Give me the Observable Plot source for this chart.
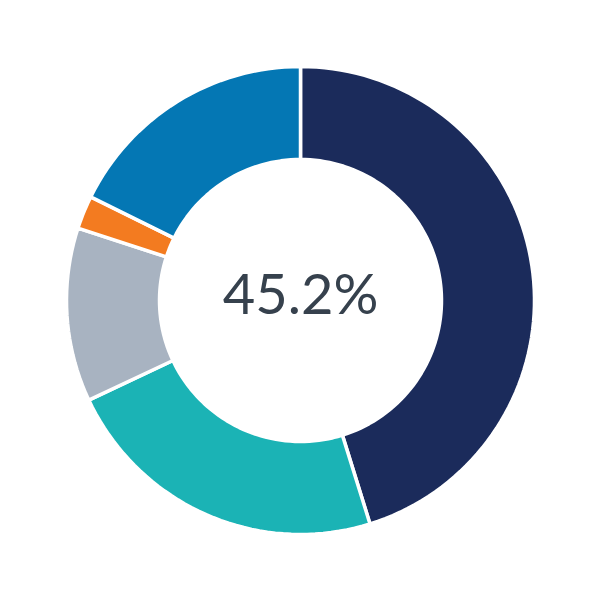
<!DOCTYPE html>
<html>
<head>
<meta charset="utf-8">
<script src="https://cdn.jsdelivr.net/npm/d3@7"></script>
<script src="https://cdn.jsdelivr.net/npm/@observablehq/plot@0.6"></script>
<style>
  html, body { margin: 0; padding: 0; background: #fff; }
  #chart { width: 600px; height: 600px; }
</style>
</head>
<body>
<div id="chart"></div>
<script>
// Data
const categories = ["A", "B", "C", "D", "E"];
const shares = [45.2, 22.8, 12.0, 2.3, 17.7];
const colors = ["#1b2b5b", "#1bb3b5", "#a8b3c1", "#f37b20", "#0477b4"];
const centerLabel = "45.2%";

// Geometry (pixels in data units)
const R_OUT = 234, R_IN = 141, STEPS = 90;
const pie = d3.pie().sort(null).value(d => d)(shares);

const pts = [];
pie.forEach((p, i) => {
  const a0 = p.startAngle, a1 = p.endAngle;
  const n = Math.max(4, Math.ceil(STEPS * (a1 - a0) / Math.PI));
  for (let k = 0; k <= n; k++) {
    const a = a0 + (a1 - a0) * k / n;
    pts.push({cat: categories[i], x: R_OUT * Math.sin(a), y: R_OUT * Math.cos(a)});
  }
  for (let k = n; k >= 0; k--) {
    const a = a0 + (a1 - a0) * k / n;
    pts.push({cat: categories[i], x: R_IN * Math.sin(a), y: R_IN * Math.cos(a)});
  }
});

const chart = Plot.plot({
  width: 600,
  height: 600,
  margin: 0,
  x: {domain: [-300, 300], axis: null},
  y: {domain: [-300, 300], axis: null},
  color: {domain: categories, range: colors},
  marks: [
    Plot.line(pts, {
      x: "x", y: "y", z: "cat", fill: "cat",
      stroke: "white", strokeWidth: 3.5, strokeLinejoin: "miter",
      curve: "linear-closed"
    }),
    Plot.text([centerLabel], {
      x: () => 0, y: () => 0, text: d => d,
      fontSize: 56, fontWeight: 400, fontFamily: "Lato, 'Open Sans', sans-serif",
      fill: "#36414d", dy: -4
    })
  ]
});
document.getElementById("chart").appendChild(chart);
</script>
</body>
</html>
